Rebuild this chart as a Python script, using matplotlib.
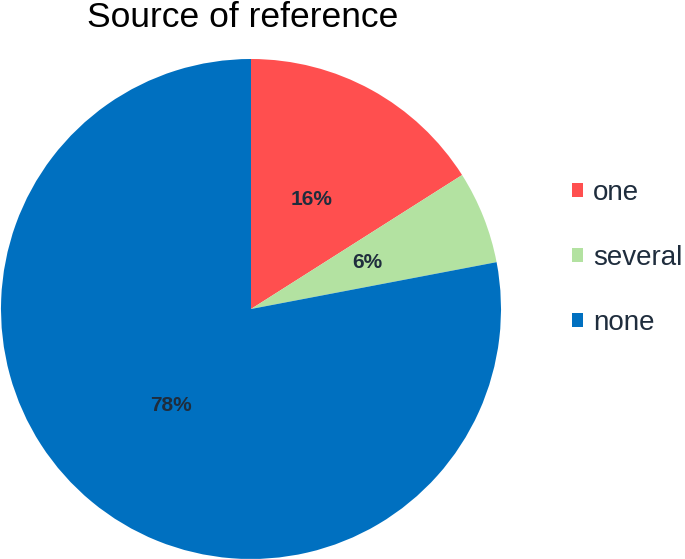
import matplotlib.pyplot as plt

plt.rcParams['font.family'] = ['Liberation Sans', 'DejaVu Sans']

#%% data
labels = ['one', 'several', 'none']
shares = [16, 6, 78]
colors = ['#FF4F4F', '#B3E2A1', '#0070C0']

#%% plot
fig = plt.figure(figsize=(6.85, 5.59), dpi=100)
ax = fig.add_axes([1/685, 0, 500/685, 500/559])
wedges, texts, autotexts = ax.pie(shares, colors=colors, startangle=90, counterclock=False,
                                  autopct='%1.0f%%', pctdistance=0.5, radius=1)
for t in autotexts:
    t.set_color('#1F2D3D')
    t.set_fontsize(15)
    t.set_fontweight('bold')
ax.set_xlim(-1, 1)
ax.set_ylim(-1, 1)
ax.set_aspect('equal')

fig.text(243/685, 1 - 1/559, 'Source of reference', ha='center', va='top', fontsize=25.5)

leg = fig.legend(wedges, labels, loc='center left', bbox_to_anchor=(558/685, 1 - 258/559),
                 frameon=False, fontsize=20, labelspacing=1.4,
                 handlelength=0.4, handleheight=0.4, handletextpad=0.35, borderpad=0)
for t in leg.get_texts():
    t.set_color('#1F2D3D')

fig.savefig('out.png', dpi=100)
